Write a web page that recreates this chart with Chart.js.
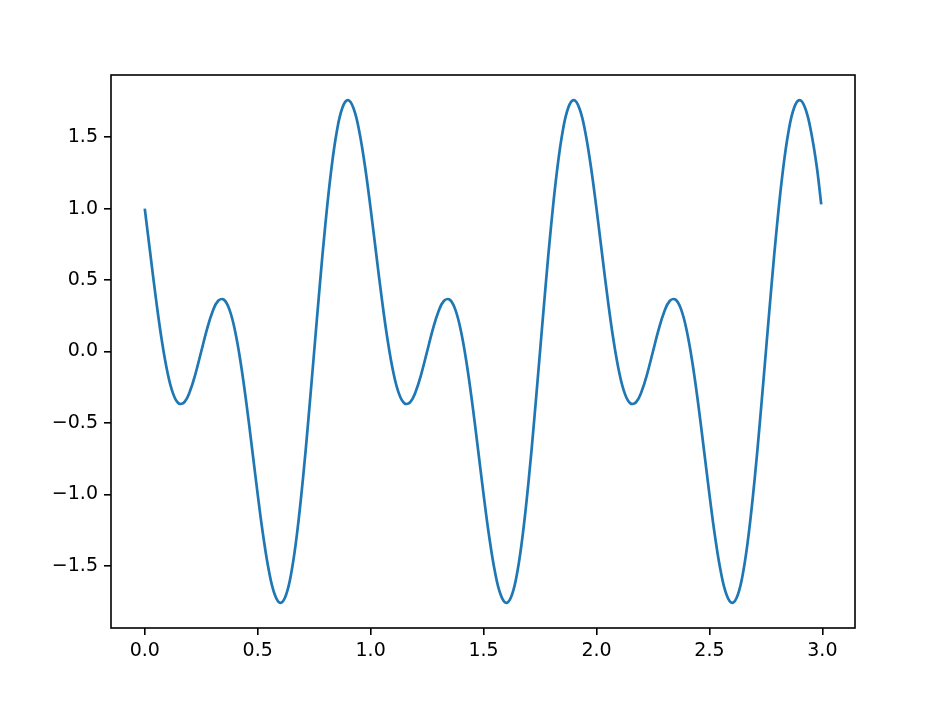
<!DOCTYPE html>
<html>
<head>
<meta charset="utf-8">
<style>
  html, body { margin: 0; padding: 0; background: #fff; }
  #chart { display: block; }
</style>
<script src="https://cdn.jsdelivr.net/npm/chart.js@4/dist/chart.umd.min.js"></script>
</head>
<body>
<canvas id="chart" width="929" height="707"></canvas>
<script>
// x positions of the sampled curve (0.0 to 3.0)
const xValues = [
  0.000, 0.025, 0.050, 0.075, 0.100, 0.125, 0.150, 0.175, 0.200, 0.225,
  0.250, 0.275, 0.300, 0.325, 0.350, 0.375, 0.400, 0.425, 0.450, 0.475,
  0.500, 0.525, 0.550, 0.575, 0.600, 0.625, 0.650, 0.675, 0.700, 0.725,
  0.750, 0.775, 0.800, 0.825, 0.850, 0.875, 0.900, 0.925, 0.950, 0.975,
  1.000, 1.025, 1.050, 1.075, 1.100, 1.125, 1.150, 1.175, 1.200, 1.225,
  1.250, 1.275, 1.300, 1.325, 1.350, 1.375, 1.400, 1.425, 1.450, 1.475,
  1.500, 1.525, 1.550, 1.575, 1.600, 1.625, 1.650, 1.675, 1.700, 1.725,
  1.750, 1.775, 1.800, 1.825, 1.850, 1.875, 1.900, 1.925, 1.950, 1.975,
  2.000, 2.025, 2.050, 2.075, 2.100, 2.125, 2.150, 2.175, 2.200, 2.225,
  2.250, 2.275, 2.300, 2.325, 2.350, 2.375, 2.400, 2.425, 2.450, 2.475,
  2.500, 2.525, 2.550, 2.575, 2.600, 2.625, 2.650, 2.675, 2.700, 2.725,
  2.750, 2.775, 2.800, 2.825, 2.850, 2.875, 2.900, 2.925, 2.950, 2.975,
  2.995
];

// curve values
const yValues = [
  1.000, 0.679, 0.363, 0.082, -0.142, -0.293, -0.363, -0.355, -0.279, -0.153,
  0.000, 0.153, 0.279, 0.355, 0.363, 0.293, 0.142, -0.082, -0.363, -0.679,
  -1.000, -1.297, -1.539, -1.700, -1.760, -1.707, -1.539, -1.263, -0.897, -0.465,
  0.000, 0.465, 0.897, 1.263, 1.539, 1.707, 1.760, 1.700, 1.539, 1.297,
  1.000, 0.679, 0.363, 0.082, -0.142, -0.293, -0.363, -0.355, -0.279, -0.153,
  0.000, 0.153, 0.279, 0.355, 0.363, 0.293, 0.142, -0.082, -0.363, -0.679,
  -1.000, -1.297, -1.539, -1.700, -1.760, -1.707, -1.539, -1.263, -0.897, -0.465,
  0.000, 0.465, 0.897, 1.263, 1.539, 1.707, 1.760, 1.700, 1.539, 1.297,
  1.000, 0.679, 0.363, 0.082, -0.142, -0.293, -0.363, -0.355, -0.279, -0.153,
  0.000, 0.153, 0.279, 0.355, 0.363, 0.293, 0.142, -0.082, -0.363, -0.679,
  -1.000, -1.297, -1.539, -1.700, -1.760, -1.707, -1.539, -1.263, -0.897, -0.465,
  0.000, 0.465, 0.897, 1.263, 1.539, 1.707, 1.760, 1.700, 1.539, 1.297,
  1.030
];

const xTicks = [0.0, 0.5, 1.0, 1.5, 2.0, 2.5, 3.0];
const yTicks = [-1.5, -1.0, -0.5, 0.0, 0.5, 1.0, 1.5];

const points = xValues.map((x, i) => ({ x: x, y: yValues[i] }));

// matplotlib-style box around the axes
const frame = {
  id: "frame",
  afterDraw(chart) {
    const a = chart.chartArea;
    const ctx = chart.ctx;
    ctx.save();
    ctx.strokeStyle = "#000";
    ctx.lineWidth = 1.6;
    ctx.strokeRect(a.left, a.top, a.right - a.left, a.bottom - a.top);
    ctx.restore();
  }
};

const tickFont = { family: "DejaVu Sans", size: 19 };

new Chart(document.getElementById("chart"), {
  type: "line",
  data: {
    datasets: [{
      data: points,
      borderColor: "#1f77b4",
      borderWidth: 2.7,
      pointRadius: 0,
      fill: false,
      tension: 0.4
    }]
  },
  options: {
    responsive: false,
    animation: false,
    devicePixelRatio: 1,
    layout: { padding: { top: 75, right: 74, left: 0, bottom: 0 } },
    plugins: { legend: { display: false }, tooltip: { enabled: false } },
    scales: {
      x: {
        type: "linear",
        min: -0.1495,
        max: 3.1445,
        afterBuildTicks: s => { s.ticks = xTicks.map(v => ({ value: v })); },
        afterFit: s => { s.height = 79; },
        grid: { drawOnChartArea: false, color: "#000", lineWidth: 1.6, tickLength: 7 },
        border: { display: false },
        ticks: {
          color: "#000",
          font: tickFont,
          padding: 5,
          maxRotation: 0,
          callback: v => v.toFixed(1)
        }
      },
      y: {
        min: -1.936,
        max: 1.936,
        afterBuildTicks: s => { s.ticks = yTicks.map(v => ({ value: v })); },
        afterFit: s => { s.width = 111; },
        grid: { drawOnChartArea: false, color: "#000", lineWidth: 1.6, tickLength: 7 },
        border: { display: false },
        ticks: {
          color: "#000",
          font: tickFont,
          padding: 6,
          callback: v => (v < 0 ? "\u2212" + Math.abs(v).toFixed(1) : v.toFixed(1))
        }
      }
    }
  },
  plugins: [frame]
});
</script>
</body>
</html>
